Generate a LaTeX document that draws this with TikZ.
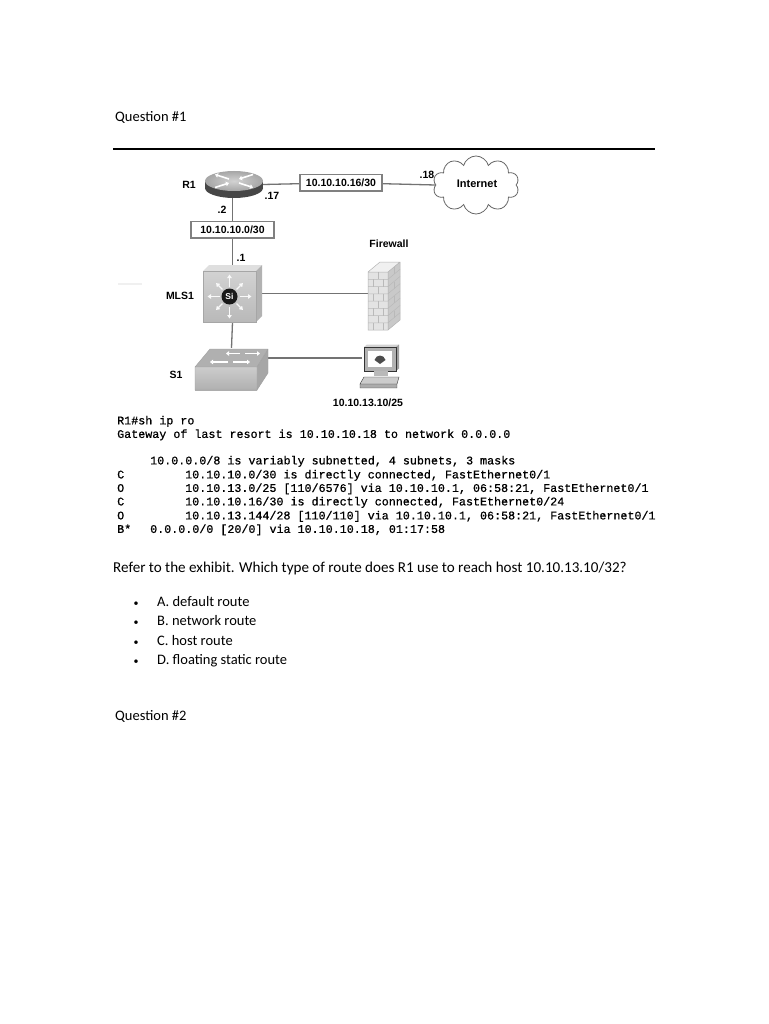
\documentclass[tikz,border=0pt]{standalone}
\usepackage{fontspec}
\setmainfont{Carlito}
\newfontfamily\arialf{Liberation Sans}
\newfontfamily\courf[FakeBold=0.7]{Liberation Mono}
\usetikzlibrary{shapes.symbols,arrows.meta,calc}
\begin{document}
\begin{tikzpicture}[x=1pt,y=-1pt,
  link/.style={draw=gray!90!black, line width=1.3pt},
  devbox/.style={inner sep=0pt, draw=none, fill=none},
  lbl/.style={font=\arialf\bfseries\fontsize{10.5}{12}\selectfont, inner sep=0pt, anchor=mid},
  netbox/.style={lbl, draw=gray, line width=1.4pt, fill=white, minimum height=16pt},
  qtext/.style={font=\fontsize{14.5}{17}\selectfont, anchor=mid west, inner sep=0pt},
  bul/.style={font=\fontsize{10}{12}\selectfont, anchor=mid, inner sep=0pt},
  cli/.style={font=\courf\fontsize{11.7}{13}\selectfont, anchor=mid west, inner sep=0pt},
  wharrow/.style={white, line width=1.6pt, -{Triangle[length=3pt,width=4.5pt]}},
  msarrow/.style={gray!5, line width=1.1pt, -{Triangle[length=3.5pt,width=4.5pt]}},
  brick/.style={gray!55, line width=0.5pt}
]
\fill[white] (0,0) rectangle (768,1024);

% title and rule
\node[qtext] (q1) at (115,119) {Question \#1};
\draw[line width=2pt] (113,149) -- (655,149);

% faint artifact
\draw[gray!12, line width=1.2pt] (118,284) -- (142,284);

% ---------- device anchor nodes ----------
\node[devbox, minimum width=58pt, minimum height=27pt] (r1) at (234,184.5) {};
\node[cloud, cloud puffs=10, aspect=1.5, draw=gray!80!black, line width=0.8pt, fill=white,
      minimum width=86pt, minimum height=58pt, inner sep=0pt] (inet) at (476,185) {};
\node[devbox, minimum width=59pt, minimum height=57pt] (mls1) at (232.5,293.5) {};
\node[devbox, minimum width=32pt, minimum height=60pt] (fw) at (384,293.5) {};
\node[devbox, minimum width=73pt, minimum height=20pt] (s1) at (231.5,358) {};
\node[devbox, minimum width=36pt, minimum height=20pt] (pc) at (380,358) {};

% ---------- links ----------
\node[netbox, minimum width=82pt] (n16) at (341,185) {10.10.10.16/30};
\node[netbox, minimum width=83pt] (n0) at (232.5,232) {10.10.10.0/30};
\draw[link] (r1.east) -- (n16.west);
\draw[link] (n16.east) -- (inet.west);
\draw[link] (r1.south -| n0.north) -- (n0.north);
\draw[link] (n0.south) -- (mls1.north);
\draw[link] (mls1.east) -- (fw.west);
\draw[link] (mls1.south) -- (s1.north);
\draw[link] (s1.east) -- (pc.west);
% redraw boxes on top
\node[netbox, minimum width=82pt] at (n16) {10.10.10.16/30};
\node[netbox, minimum width=83pt] at (n0) {10.10.10.0/30};

% ---------- router R1 ----------
\fill[gray!55!black] (205,181) rectangle (263,188);
\fill[gray!55!black] (234,188) ellipse [x radius=29, y radius=10];
\shade[inner color=gray!35, outer color=gray!70] (234,181) ellipse [x radius=29, y radius=10];
\draw[wharrow] (229,179) -- (215,174.5);
\draw[wharrow] (253,174.5) -- (239,179);
\draw[wharrow] (215,187.5) -- (229,183);
\draw[wharrow] (239,183) -- (253,187.5);

% ---------- MLS1 ----------
\fill[gray!25] (203,271) -- (209,265) -- (262,265) -- (256,271) -- cycle;
\fill[gray!60] (256,271) -- (262,265) -- (262,316) -- (256,322) -- cycle;
\shade[top color=gray!35, bottom color=gray!55] (203,271) rectangle (256,322);
\draw[gray!70, line width=0.4pt] (203,271) rectangle (256,322);
\coordinate (si) at (229.5,296.5);
\foreach \a in {0,90,180,270} \draw[msarrow] ($(si)+(\a:10)$) -- ($(si)+(\a:22)$);
\foreach \a in {45,135,225,315} \draw[msarrow] ($(si)+(\a:10)$) -- ($(si)+(\a:19)$);
\fill[gray!20!black] (si) circle (8pt);
\node[font=\arialf\bfseries\fontsize{8.5}{9}\selectfont, text=white, inner sep=0pt] (silbl) at (si) {Si};

% ---------- Firewall ----------
\fill[gray!12] (368,272) -- (380,262) -- (400,262) -- (388,272) -- cycle;
\fill[gray!42] (388,272) -- (400,262) -- (400,320) -- (388,330) -- cycle;
\fill[gray!22] (368,272) rectangle (388,330);
\foreach \k in {1,...,7} \draw[brick] (368,{272+\k*7.25}) -- (388,{272+\k*7.25}) -- (400,{262+\k*7.25});
\foreach \k in {0,2,4,6} \draw[brick] (378,{272+\k*7.25}) -- ++(0,7.25) (394,{267+\k*7.25}) -- ++(0,7.25);
\foreach \k in {1,3,5,7} \draw[brick] (373,{272+\k*7.25}) -- ++(0,7.25) (383,{272+\k*7.25}) -- ++(0,7.25);
\draw[gray!60, line width=0.5pt] (368,272) -- (380,262) -- (400,262) -- (400,320) -- (388,330) -- (368,330) -- cycle (388,272) -- (388,330) (368,272) -- (388,272) -- (400,262);

% ---------- S1 ----------
\fill[gray!62] (195,367) -- (210,349) -- (268,349) -- (257,367) -- cycle;
\fill[gray!70] (257,367) -- (268,349) -- (268,373) -- (257,390) -- cycle;
\shade[top color=gray!40, bottom color=gray!62] (195,367) rectangle (257,390);
\draw[gray!75, line width=0.4pt] (195,367) -- (210,349) -- (268,349) -- (268,373) -- (257,390) -- (195,390) -- cycle (195,367) -- (257,367) -- (268,349) (257,367) -- (257,390);
\draw[wharrow, line width=1.3pt] (240,353.5) -- (226,353.5);
\draw[wharrow, line width=1.3pt] (245,353.5) -- (260,353.5);
\draw[wharrow, line width=1.3pt] (228,362) -- (210,362);
\draw[wharrow, line width=1.3pt] (233,362) -- (250,362);

% ---------- PC ----------
\fill[gray!35] (364,347) -- (367,344.5) -- (399,344.5) -- (396,347) -- cycle;
\fill[gray!75] (396,347) -- (399,344.5) -- (399,368.5) -- (396,371) -- cycle;
\fill[gray!60] (364,347) rectangle (396,371);
\draw[gray!40!black, line width=0.5pt] (364,347) rectangle (396,371);
\fill[white] (368,351) rectangle (392,367);
\fill[gray!60!black] (374.5,360) .. controls (376,354) and (384,354) .. (385.5,360) -- (380,364) -- cycle;
\fill[gray!55] (374,371) rectangle (388,376);
\fill[gray!40] (360,384) -- (364,377) -- (399,377) -- (397,384) -- cycle;
\fill[gray!65] (360,384) rectangle (397,388);
\draw[gray!45!black, line width=0.4pt] (360,384) -- (364,377) -- (399,377) -- (397,384) -- cycle (360,384) rectangle (397,388);

% ---------- labels ----------
\node[lbl] (lr1) at (189,186) {R1};
\node[lbl] (l17) at (272,197) {.17};
\node[lbl] (l2) at (222,211) {.2};
\node[lbl] (l18) at (427,176) {.18};
\node[lbl, font=\arialf\bfseries\fontsize{11}{12}\selectfont] (linet) at (477,185) {Internet};
\node[lbl] (l1) at (241,259) {.1};
\node[lbl] (lfw) at (389,245) {Firewall};
\node[lbl] (lmls) at (180,297) {MLS1};
\node[lbl] (ls1) at (176,376) {S1};
\node[lbl] (lpc) at (368,404) {10.10.13.10/25};

% ---------- routing table ----------
\node[cli] (t1) at (117,422) {R1\#sh ip ro};
\node[cli] (t2) at (117,435.5) {Gateway of last resort is 10.10.10.18 to network 0.0.0.0};
\node[cli] (t3) at (150,462) {10.0.0.0/8 is variably subnetted, 4 subnets, 3 masks};
\node[cli] (t4a) at (117,476) {C};
\node[cli] (t4) at (185,476) {10.10.10.0/30 is directly connected, FastEthernet0/1};
\node[cli] (t5a) at (117,489.5) {O};
\node[cli] (t5) at (185,489.5) {10.10.13.0/25 [110/6576] via 10.10.10.1, 06:58:21, FastEthernet0/1};
\node[cli] (t6a) at (117,503) {C};
\node[cli] (t6) at (185,503) {10.10.10.16/30 is directly connected, FastEthernet0/24};
\node[cli] (t7a) at (117,517) {O};
\node[cli] (t7) at (185,517) {10.10.13.144/28 [110/110] via 10.10.10.1, 06:58:21, FastEthernet0/1};
\node[cli] (t8a) at (117,530.5) {B*};
\node[cli] (t8) at (150,530.5) {0.0.0.0/0 [20/0] via 10.10.10.18, 01:17:58};

% ---------- question ----------
\node[qtext, font=\fontsize{15.1}{17}\selectfont] (qs) at (113,570) {Refer to the exhibit. Which type of route does R1 use to reach host 10.10.13.10/32?};
\foreach \t/\yy [count=\i] in {A. default route/604, B. network route/623.5, C. host route/643, D. floating static route/662} {
  \node[bul] (b\i) at (136,\yy) {\textbullet};
  \node[qtext] (a\i) at (157,\yy) {\t};
}
\node[qtext] (q2) at (115,718) {Question \#2};
\end{tikzpicture}
\end{document}
